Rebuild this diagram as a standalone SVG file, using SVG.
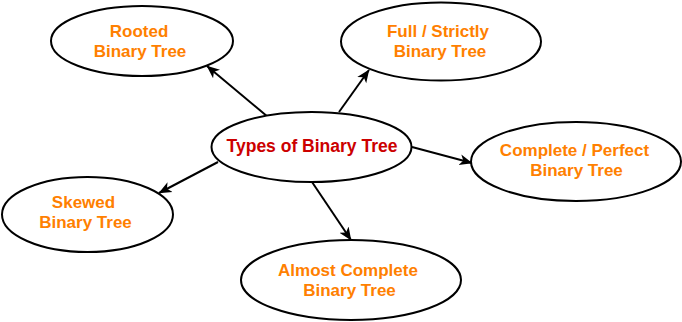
<svg xmlns="http://www.w3.org/2000/svg" width="682" height="322" viewBox="0 0 682 322">
<style>
.n{fill:#fff;stroke:#000;stroke-width:2}
.t{font-family:"Liberation Sans",Arial,sans-serif;font-weight:bold;font-size:17px;fill:#FF8000;text-anchor:middle}
.c{fill:#CC0000;font-size:17.5px}
.e{fill:none;stroke:#000;stroke-width:2}
</style>
<defs>
<marker id="a" markerUnits="userSpaceOnUse" markerWidth="14" markerHeight="12" refX="12.5" refY="6" orient="auto" viewBox="0 0 14 12">
<path d="M0,0.5 L13,6 L0,11.5 L3.5,6 z" fill="#000"/>
</marker>
</defs>
<g id="connectors">
<line class="e" x1="268" y1="117" x2="207" y2="66" marker-end="url(#a)"/>
<line class="e" x1="339" y1="112" x2="369" y2="70" marker-end="url(#a)"/>
<line class="e" x1="412" y1="147" x2="472" y2="163" marker-end="url(#a)"/>
<line class="e" x1="218" y1="162" x2="159" y2="193" marker-end="url(#a)"/>
<line class="e" x1="312" y1="182" x2="351" y2="240" marker-end="url(#a)"/>
</g>
<g id="center">
<ellipse class="n" cx="311.5" cy="147" rx="100" ry="35"/>
<text class="t c" x="312" y="151.5">Types of Binary Tree</text>
</g>
<g id="rooted">
<ellipse class="n" cx="142" cy="41" rx="91" ry="35"/>
<text class="t" x="139" y="36.7">Rooted</text>
<text class="t" x="140" y="56.7">Binary Tree</text>
</g>
<g id="full">
<ellipse class="n" cx="441" cy="41.5" rx="100" ry="39"/>
<text class="t" x="438" y="36.5">Full / Strictly</text>
<text class="t" x="440" y="56.5">Binary Tree</text>
</g>
<g id="complete">
<ellipse class="n" cx="576" cy="161.5" rx="105" ry="39.5"/>
<text class="t" x="574.5" y="156">Complete / Perfect</text>
<text class="t" x="576.5" y="176">Binary Tree</text>
</g>
<g id="skewed">
<ellipse class="n" cx="87.5" cy="214.5" rx="85.5" ry="37.5"/>
<text class="t" x="83.5" y="208">Skewed</text>
<text class="t" x="85.5" y="228">Binary Tree</text>
</g>
<g id="almost">
<ellipse class="n" cx="351" cy="280" rx="110" ry="40"/>
<text class="t" x="348" y="276">Almost Complete</text>
<text class="t" x="349.5" y="296">Binary Tree</text>
</g>
</svg>
